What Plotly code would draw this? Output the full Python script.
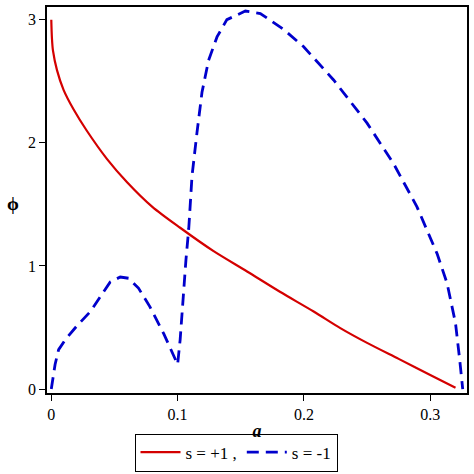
import plotly.graph_objects as go

# s = +1 curve
a_pos = [0, 0.0005, 0.0013, 0.0045, 0.0097, 0.0177, 0.028, 0.044, 0.06, 0.08,
         0.102, 0.1285, 0.155, 0.181, 0.2077, 0.2288, 0.25, 0.275, 0.3, 0.32]
phi_pos = [3.0, 2.85, 2.75, 2.59, 2.43, 2.27, 2.10, 1.87, 1.68, 1.48,
           1.31, 1.12, 0.955, 0.79, 0.63, 0.495, 0.375, 0.245, 0.115, 0.01]

# s = -1 curve
a_neg = [0, 0.003, 0.0058, 0.011, 0.020, 0.031, 0.0414, 0.0467, 0.0546, 0.0612,
         0.069, 0.078, 0.089, 0.1, 0.102, 0.104, 0.1066, 0.1088, 0.1114, 0.1153,
         0.1193, 0.1245, 0.1312, 0.139, 0.1536, 0.1655, 0.184, 0.1998, 0.2235, 0.25,
         0.271, 0.2895, 0.3054, 0.3133, 0.32, 0.3233, 0.3257]
phi_neg = [0.0, 0.2, 0.32, 0.40, 0.51, 0.63, 0.79, 0.87, 0.91, 0.90,
           0.82, 0.67, 0.45, 0.20, 0.40, 0.72, 1.05, 1.30, 1.73, 2.08,
           2.41, 2.67, 2.86, 3.00, 3.07, 3.05, 2.92, 2.78, 2.51, 2.16,
           1.83, 1.48, 1.10, 0.86, 0.535, 0.24, 0.0]

x_ticks = [0, 0.1, 0.2, 0.3]
x_ticktext = ["0", "0.1", "0.2", "0.3"]
y_ticks = [0, 1, 2, 3]
y_ticktext = ["0", "1", "2", "3"]

font_family = "Liberation Serif, Times New Roman, serif"

fig = go.Figure()
fig.add_trace(go.Scatter(x=a_pos, y=phi_pos, mode="lines", name="s = +1 ,",
                         line=dict(color="#d40000", width=2.2, shape="spline", smoothing=0.8)))
fig.add_trace(go.Scatter(x=a_neg, y=phi_neg, mode="lines", name="s = -1",
                         line=dict(color="#0000cc", width=2.8, dash="12px,7px")))

fig.update_layout(
    width=474, height=474,
    margin=dict(l=47, r=7, t=7, b=81, autoexpand=False),
    paper_bgcolor="white", plot_bgcolor="white",
    font=dict(family=font_family, size=16, color="black"),
    showlegend=True,
    legend=dict(orientation="h", x=0.45, xanchor="center", y=-0.105, yanchor="top",
                bordercolor="black", borderwidth=1, bgcolor="white",
                font=dict(family=font_family, size=17), itemwidth=40,
                tracegroupgap=0, valign="middle"),
    xaxis=dict(range=[-0.0034, 0.3291], tickvals=x_ticks, ticktext=x_ticktext,
               ticks="outside", ticklen=6, tickcolor="black", tickwidth=1,
               showline=True, linecolor="black", linewidth=1.5, mirror=True,
               showgrid=False, zeroline=False, automargin=False,
               title=dict(text="<b><i>a</i></b>", standoff=2,
                          font=dict(family=font_family, size=18))),
    yaxis=dict(range=[-0.032, 3.103], tickvals=y_ticks, ticktext=y_ticktext,
               ticks="outside", ticklen=6, tickcolor="black", tickwidth=1,
               showline=True, linecolor="black", linewidth=1.5, mirror=True,
               showgrid=False, zeroline=False, automargin=False),
    annotations=[dict(text="<b>ϕ</b>", xref="paper", yref="paper", x=-0.08, y=0.49,
                      xanchor="center", yanchor="middle", showarrow=False,
                      font=dict(family=font_family, size=19))],
)

fig.write_html("out.html", config={"displayModeBar": False},
               post_script="document.body.style.margin='0px';document.body.style.padding='0px';document.documentElement.style.overflow='hidden';")
